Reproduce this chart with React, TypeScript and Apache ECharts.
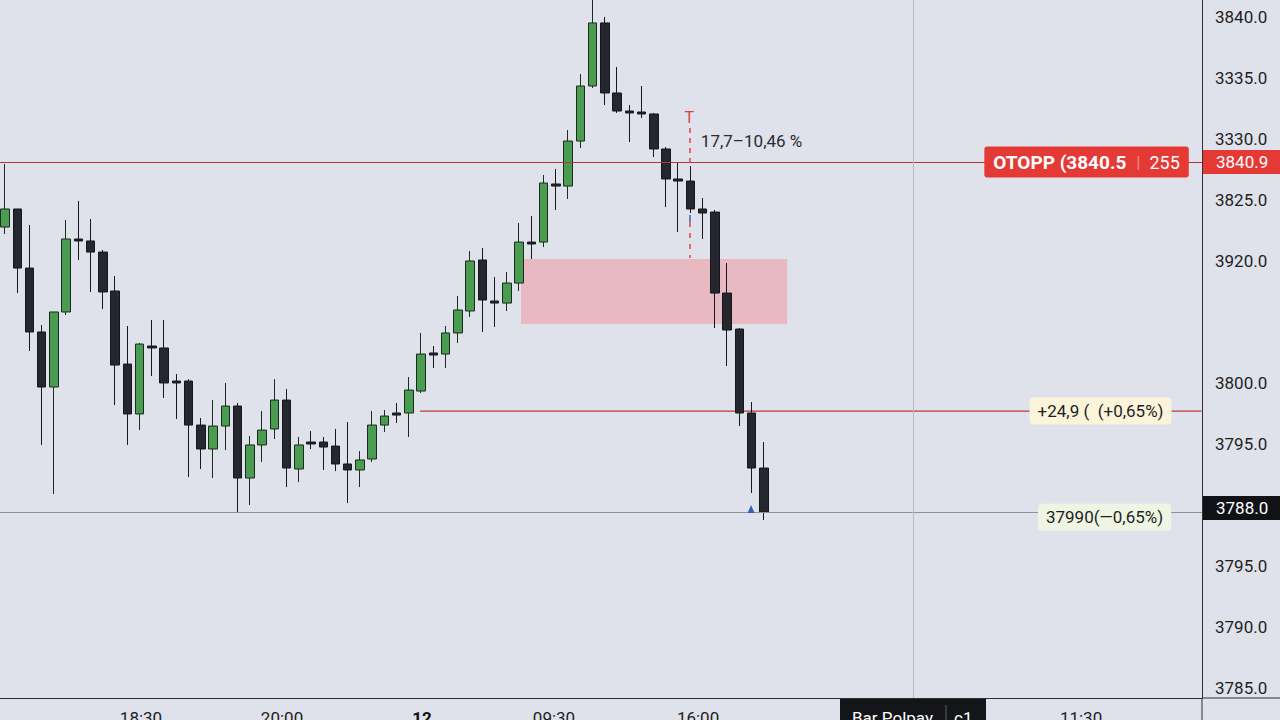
import React, { useEffect, useRef } from "react";
import * as echarts from "echarts";

// ---- Candles (one per bar, left to right) ----
const opens = [
  3822.78, 3824.26, 3819.42, 3814.18, 3809.67, 3815.82, 3821.8, 3821.64, 3820.73, 3817.54,
  3811.55, 3807.46, 3813.03, 3812.87, 3810.16, 3810.16, 3806.55, 3804.59, 3806.47, 3808.11,
  3802.21, 3804.92, 3806.23, 3808.6, 3802.95, 3805.16, 3805.16, 3804.83, 3803.36, 3802.87,
  3803.77, 3806.55, 3807.54, 3807.54, 3809.34, 3812.46, 3812.37, 3814.1, 3815.9, 3820.08,
  3816.72, 3816.55, 3818.19, 3821.55, 3821.55, 3826.31, 3826.14, 3829.83, 3834.34, 3839.51,
  3833.77, 3832.29, 3832.21, 3832.05, 3829.18, 3826.72, 3826.55, 3824.26, 3824.01, 3817.37,
  3814.42, 3807.54, 3803.03,
];
const closes = [
  3824.26, 3819.42, 3814.18, 3809.67, 3815.82, 3821.8, 3821.64, 3820.73, 3817.46, 3811.47,
  3807.46, 3813.19, 3812.87, 3810.0, 3810.0, 3806.55, 3804.59, 3806.47, 3808.11, 3802.21,
  3804.92, 3806.14, 3808.6, 3803.03, 3804.92, 3805.0, 3804.75, 3803.36, 3802.87, 3803.69,
  3806.55, 3807.29, 3807.37, 3809.42, 3812.37, 3812.29, 3814.1, 3815.98, 3820.0, 3816.8,
  3816.55, 3818.19, 3821.55, 3821.39, 3826.39, 3826.14, 3829.83, 3834.34, 3839.51, 3833.77,
  3832.29, 3832.13, 3832.05, 3829.18, 3826.72, 3826.55, 3824.26, 3823.93, 3817.37, 3814.34,
  3807.54, 3803.03, 3799.42,
];
const lows = [
  3822.21, 3817.37, 3812.62, 3804.92, 3800.9, 3815.57, 3820.08, 3817.46, 3816.06, 3808.19,
  3804.92, 3806.14, 3810.57, 3808.77, 3807.05, 3802.29, 3802.95, 3802.21, 3804.51, 3799.42,
  3800.0, 3803.52, 3805.41, 3801.47, 3801.88, 3804.59, 3802.87, 3802.78, 3800.16, 3801.47,
  3803.52, 3805.98, 3806.72, 3805.57, 3809.18, 3811.23, 3811.23, 3813.28, 3815.41, 3814.18,
  3814.59, 3815.9, 3817.54, 3820.16, 3821.14, 3824.18, 3825.08, 3829.26, 3834.18, 3832.78,
  3832.13, 3829.75, 3831.72, 3828.52, 3824.42, 3822.37, 3823.93, 3821.8, 3814.51, 3811.39,
  3806.47, 3800.98, 3798.77,
];
const highs = [
  3827.95, 3824.26, 3822.95, 3814.75, 3815.82, 3823.36, 3824.92, 3823.44, 3820.9, 3818.77,
  3814.67, 3813.28, 3815.16, 3815.16, 3810.73, 3810.32, 3807.13, 3808.6, 3810.0, 3808.36,
  3805.65, 3807.7, 3810.32, 3809.51, 3805.57, 3806.06, 3805.57, 3806.23, 3806.8, 3804.42,
  3807.7, 3807.78, 3808.36, 3810.49, 3814.1, 3813.03, 3814.67, 3817.13, 3820.82, 3821.06,
  3818.69, 3819.1, 3823.11, 3823.69, 3827.05, 3827.54, 3830.73, 3835.32, 3841.39, 3840.0,
  3835.9, 3832.78, 3834.34, 3832.13, 3829.34, 3828.03, 3827.78, 3825.16, 3824.18, 3819.83,
  3814.51, 3808.44, 3805.16,
];

// ---- Axes ----
const X_MIN = -0.41;
const X_MAX = 97.79;
const Y_MIN = 3784.18;
const Y_MAX = 3841.39;
const yTickValues = [3785, 3790, 3795, 3800, 3805, 3810, 3815, 3820, 3825, 3830, 3835, 3840];
const yTickLabels = ["3785.0", "3790.0", "3795.0", "", "3795.0", "3800.0", "", "3920.0", "3825.0", "3330.0", "3335.0", "3840.0"];
const xTickValues = [11.11, 22.63, 34.07, 44.85, 56.62, 87.91];
const xTickLabels = ["18:30", "20:00", "12", "09:30", "16:00", "11:30"];

// ---- Levels & annotations ----
const resistanceLevel = 3828.11;
const targetLevel = 3807.7;
const targetStartX = 33.9;
const targetEndX = 97.75;
const stopLevel = 3799.42;
const currentPriceLevel = 3815.37;
const crosshairX = 74.18;
const zoneX = [42.16, 63.9];
const zoneY = [3814.83, 3820.16];
const measureX = 55.96;
const measureUpper = [3830.9, 3827.87];
const measureLower = [3823.19, 3820.24];
const measureBlue = [3823.77, 3823.19];

const FONT = "Roboto, 'Noto Sans', sans-serif";

function nearestLabel(values: number[], labels: string[], v: number) {
  let best = 0;
  for (let i = 1; i < values.length; i++) {
    if (Math.abs(values[i] - v) < Math.abs(values[best] - v)) best = i;
  }
  return labels[best];
}

export default function App() {
  const ref = useRef<HTMLDivElement>(null);

  useEffect(() => {
    if (!ref.current) return;
    const chart = echarts.init(ref.current, undefined, { renderer: "svg" });

    const candles = opens.map((o, i) => [i, o, closes[i], lows[i], highs[i]]);

    const badge = (text: string, bg: string) => ({
      show: true,
      position: "end",
      distance: 1,
      formatter: text,
      backgroundColor: bg,
      color: "#ffffff",
      fontSize: 17,
      fontFamily: FONT,
      lineHeight: 18,
      padding: [3, 20, 3, 13],
    });

    const option: any = {
      animation: false,
      backgroundColor: "#dfe2ea",
      grid: { left: 0, right: 78, top: 0, bottom: 22, containLabel: false, outerBoundsMode: "none" },
      xAxis: {
        type: "value",
        min: X_MIN,
        max: X_MAX,
        position: "bottom",
        axisLine: { show: true, onZero: false, lineStyle: { color: "#2e3036", width: 1 } },
        axisTick: { show: false },
        splitLine: { show: false },
        axisLabel: {
          customValues: xTickValues,
          formatter: (v: number) => {
            const t = nearestLabel(xTickValues, xTickLabels, v);
            return t === "12" ? "{b|12}" : t;
          },
          color: "#1e1f23",
          fontSize: 17,
          fontFamily: FONT,
          margin: 11,
          rich: { b: { fontWeight: "bold", fontSize: 17, fontFamily: FONT, color: "#111" } },
        },
      },
      yAxis: {
        type: "value",
        position: "right",
        min: Y_MIN,
        max: Y_MAX,
        axisLine: { show: true, onZero: false, lineStyle: { color: "#2e3036", width: 1 } },
        axisTick: { show: false },
        splitLine: { show: false },
        axisLabel: {
          customValues: yTickValues,
          formatter: (v: number) => nearestLabel(yTickValues, yTickLabels, v),
          color: "#1e1f23",
          fontSize: 17,
          fontFamily: FONT,
          margin: 13,
        },
      },
      series: [
        {
          type: "line",
          name: "target",
          z: 1,
          silent: true,
          clip: true,
          symbol: "none",
          data: [
            [targetStartX, targetLevel],
            [targetEndX, targetLevel],
          ],
          lineStyle: { color: "#c0393b", width: 1.2 },
          itemStyle: { color: "#c0393b" },
        },
        {
          type: "line",
          data: [],
          z: 1,
          silent: true,
          markArea: {
            silent: true,
            itemStyle: { color: "#e8b9c1" },
            data: [[{ coord: [zoneX[0], zoneY[1]] }, { coord: [zoneX[1], zoneY[0]] }]],
          },
          markLine: {
            silent: true,
            symbol: ["none", "none"],
            label: { show: false },
            data: [
              {
                yAxis: resistanceLevel,
                lineStyle: { color: "#b0383a", width: 1.2, type: "solid" },
                label: badge("3840.9", "#e53935"),
              },
              {
                yAxis: stopLevel,
                lineStyle: { color: "#8d919a", width: 1, type: "solid" },
                label: { ...badge("3788.0", "#111216"), offset: [0, -4] },
              },
              {
                yAxis: currentPriceLevel,
                lineStyle: { opacity: 0 },
                label: badge("3816.5", "#111216"),
              },
              {
                xAxis: crosshairX,
                lineStyle: { color: "#b8bcc6", width: 1, type: "solid" },
              },
              [
                { coord: [measureX, measureUpper[0]], lineStyle: { color: "#e0463f", width: 1.5, type: [5, 5] } },
                { coord: [measureX, measureUpper[1]] },
              ],
              [
                { coord: [measureX, measureLower[0]], lineStyle: { color: "#e0463f", width: 1.5, type: [5, 6] } },
                { coord: [measureX, measureLower[1]] },
              ],
              [
                { coord: [measureX, measureBlue[0]], lineStyle: { color: "#3a62b0", width: 1.5, type: "solid" } },
                { coord: [measureX, measureBlue[1]] },
              ],
            ],
          },
          markPoint: {
            silent: true,
            symbol: "circle",
            symbolSize: 0,
            data: [
              {
                coord: [55.9, 3831.72],
                label: { show: true, position: "inside", formatter: "T", color: "#e0403c", fontSize: 16, fontFamily: FONT },
              },
              {
                coord: [60.99, 3829.83],
                label: { show: true, position: "inside", formatter: "17,7–10,46 %", color: "#2a2b30", fontSize: 17, fontFamily: FONT },
              },
              {
                coord: [88.36, resistanceLevel],
                label: {
                  show: true,
                  position: "inside",
                  formatter: "{a|OTOPP (3840.5}{s||}{b|255}",
                  backgroundColor: "#e53935",
                  borderRadius: 3,
                  padding: [6, 9, 6, 9],
                  rich: {
                    a: { color: "#fff", fontSize: 19, fontWeight: "bold", fontFamily: FONT },
                    s: { color: "rgba(255,255,255,0.45)", fontSize: 17, padding: [0, 9, 0, 10], fontFamily: FONT },
                    b: { color: "#fff", fontSize: 18, fontFamily: FONT },
                  },
                },
              },
              {
                coord: [89.5, targetLevel],
                label: {
                  show: true,
                  position: "inside",
                  formatter: "+24,9 (\u00a0 (+0,65%)",
                  backgroundColor: "#fbf3da",
                  borderRadius: 4,
                  padding: [5, 8, 5, 8],
                  color: "#1e1f23",
                  fontSize: 17,
                  fontFamily: FONT,
                },
              },
              {
                coord: [89.83, 3799.0],
                label: {
                  show: true,
                  position: "inside",
                  formatter: "37990(—0,65%)",
                  backgroundColor: "#eef5e3",
                  borderRadius: 4,
                  padding: [5, 8, 5, 8],
                  color: "#1e1f23",
                  fontSize: 17,
                  fontFamily: FONT,
                },
              },
              {
                coord: [60.95, 3799.67],
                symbol: "triangle",
                symbolSize: [7, 8],
                itemStyle: { color: "#2f62b5" },
                label: { show: false },
              },
            ],
          },
        },
        {
          type: "candlestick",
          z: 3,
          data: candles,
          dimensions: ["idx", "open", "close", "lowest", "highest"],
          encode: { x: 0, y: [1, 2, 3, 4] },
          barWidth: 9,
          itemStyle: {
            color: "#4a9c51",
            color0: "#24272e",
            borderColor: "#1c2a1f",
            borderColor0: "#15171b",
            borderWidth: 1,
          },
        },
      ],
      graphic: [
        { type: "line", shape: { x1: 1202, y1: 698, x2: 1280, y2: 698 }, style: { stroke: "#2e3036", lineWidth: 1 } },
        { type: "line", shape: { x1: 1202, y1: 698, x2: 1202, y2: 720 }, style: { stroke: "#2e3036", lineWidth: 1 } },
        {
          type: "group",
          x: 840,
          y: 699,
          children: [
            { type: "rect", shape: { x: 0, y: 0, width: 146, height: 24 }, style: { fill: "#141518" } },
            {
              type: "text",
              x: 12,
              y: 10,
              style: { text: "Bar Polpay", fill: "#ffffff", font: `17px ${FONT}`, verticalAlign: "top" },
            },
            { type: "line", shape: { x1: 106, y1: 6, x2: 106, y2: 24 }, style: { stroke: "#5a5d64", lineWidth: 1 } },
            {
              type: "text",
              x: 114,
              y: 10,
              style: { text: "c1", fill: "#ffffff", font: `17px ${FONT}`, verticalAlign: "top" },
            },
          ],
        },
      ],
    };

    chart.setOption(option);
    return () => chart.dispose();
  }, []);

  return <div ref={ref} style={{ position: "fixed", left: 0, top: 0, width: 1280, height: 720 }} />;
}
